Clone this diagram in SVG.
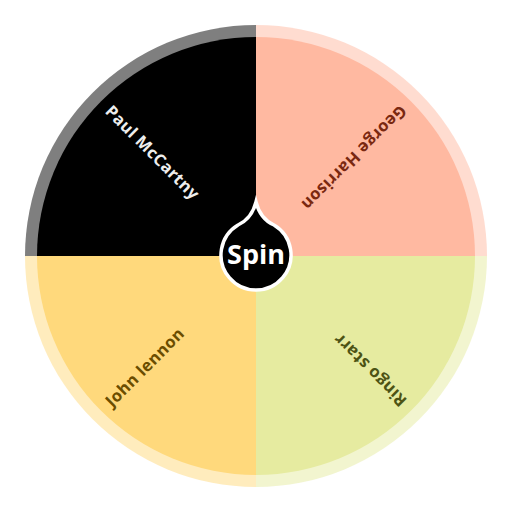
<svg xmlns="http://www.w3.org/2000/svg" width="512" height="512" viewBox="0 0 512 512">
<style>
.lbl{font-family:"Open Sans","Noto Sans","Liberation Sans",sans-serif;font-weight:bold;font-size:16.5px;letter-spacing:0.4px}
.rim{opacity:0.5}
</style>
<rect width="512" height="512" fill="#ffffff"/>
<g id="paul">
<path class="rim" d="M256,256 L25,256 A231,231 0 0 1 256,25 Z" fill="#000000"/>
<path d="M256,256 L37,256 A219,219 0 0 1 256,37 Z" fill="#000000"/>
<g transform="translate(256,256) rotate(45)"><text class="lbl" x="-209" dy="0.35em" fill="#eeeeee">Paul McCartny</text></g>
</g>
<g id="george">
<path class="rim" d="M256,256 L256,25 A231,231 0 0 1 487,256 Z" fill="#FFB9A1"/>
<path d="M256,256 L256,37 A219,219 0 0 1 475,256 Z" fill="#FFB9A1"/>
<g transform="translate(256,256) rotate(135)"><text class="lbl" x="-209" dy="0.35em" fill="#7a2810">George Harrison</text></g>
</g>
<g id="ringo">
<path class="rim" d="M256,256 L487,256 A231,231 0 0 1 256,487 Z" fill="#E6EBA0"/>
<path d="M256,256 L475,256 A219,219 0 0 1 256,475 Z" fill="#E6EBA0"/>
<g transform="translate(256,256) rotate(225)"><text class="lbl" x="-209" dy="0.35em" fill="#4d5314">Ringo starr</text></g>
</g>
<g id="john">
<path class="rim" d="M256,256 L256,487 A231,231 0 0 1 25,256 Z" fill="#FFD97C"/>
<path d="M256,256 L256,475 A219,219 0 0 1 37,256 Z" fill="#FFD97C"/>
<g transform="translate(256,256) rotate(315)"><text class="lbl" x="-209" dy="0.35em" fill="#6b4d00">John lennon</text></g>
</g>
<g id="spin">
<path d="M256,202 C259,214 265,221 274,225 A35,35 0 1 1 238,225 C247,221 253,214 256,202 Z" fill="#000000" stroke="#ffffff" stroke-width="3.5" stroke-linejoin="miter" stroke-miterlimit="10"/>
<text x="256" y="264" text-anchor="middle" font-family="'Open Sans','Noto Sans','Liberation Sans',sans-serif" font-weight="bold" font-size="27" fill="#ffffff">Spin</text>
</g>
</svg>
